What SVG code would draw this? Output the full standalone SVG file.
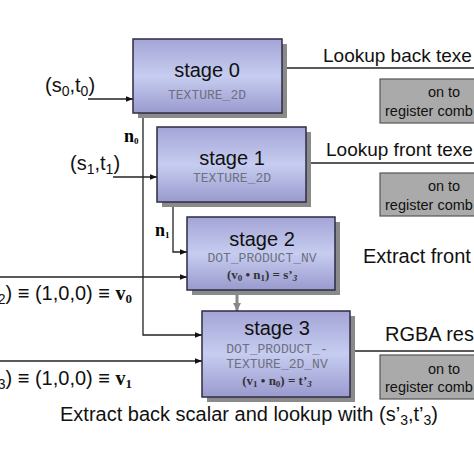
<svg xmlns="http://www.w3.org/2000/svg" width="474" height="474" viewBox="0 0 474 474">
<defs>
<linearGradient id="g" x1="0" y1="0" x2="0" y2="1">
<stop offset="0" stop-color="#a4a4d6"/>
<stop offset="0.5" stop-color="#c6cdf0"/>
<stop offset="1" stop-color="#9a9ace"/>
</linearGradient>
<marker id="ah" viewBox="0 0 10 10" refX="10" refY="5" markerWidth="7" markerHeight="7" markerUnits="userSpaceOnUse" orient="auto"><path d="M0,1 L10,5 L0,9 z" fill="#111"/></marker>
<marker id="ahg" viewBox="0 0 10 10" refX="10" refY="5" markerWidth="8" markerHeight="8" markerUnits="userSpaceOnUse" orient="auto"><path d="M0,0 L10,5 L0,10 z" fill="#888"/></marker>
</defs>
<style>
.box{fill:url(#g);stroke:#2c2c44;stroke-width:1.5}
.sh{fill:#8a8a8a}
.st{font-family:"Liberation Sans",Arial,sans-serif;font-size:20px;fill:#111;text-anchor:middle}
.mono{font-family:"Liberation Mono","Courier New",monospace;font-size:13px;fill:#6f6f80;text-anchor:middle}
.f{font-family:"Liberation Serif","Times New Roman",serif;font-size:13px;font-weight:bold;fill:#333;text-anchor:middle}
.lbl{font-family:"Liberation Sans",Arial,sans-serif;font-size:20px;fill:#111}
.rl{font-family:"Liberation Sans",Arial,sans-serif;font-size:19px;fill:#111}
.serb{font-family:"Liberation Serif","Times New Roman",serif;font-weight:bold}
.gb{fill:#aaaaaa;stroke:#555;stroke-width:1.2}
.gt{font-family:"Liberation Sans",Arial,sans-serif;font-size:14.5px;fill:#111}
.ln{stroke:#222;stroke-width:1.3;fill:none}
</style>
<g id="connectors">
<path class="ln" d="M88,99 H133" marker-end="url(#ah)"/>
<path class="ln" d="M113,177 H157" marker-end="url(#ah)"/>
<path class="ln" d="M143,113 V335 H202" marker-end="url(#ah)"/>
<path class="ln" d="M173,202 V252 H187" marker-end="url(#ah)"/>
<path class="ln" d="M0,277 H187" marker-end="url(#ah)"/>
<path class="ln" d="M0,361 H202" marker-end="url(#ah)"/>
<path d="M237,295 V311" stroke="#888" stroke-width="3" fill="none" marker-end="url(#ahg)"/>
<path class="ln" d="M287,68 H474"/>
<path class="ln" d="M311,163 H474"/>
<path class="ln" d="M355,351 H474"/>
</g>
<g id="stage0">
<rect class="sh" x="138" y="44" width="149" height="74"/>
<rect class="box" x="133" y="39" width="149" height="74"/>
<text class="st" x="207" y="77">stage 0</text>
<text class="mono" x="207" y="99">TEXTURE_2D</text>
</g>
<g id="stage1">
<rect class="sh" x="162" y="132" width="149" height="75"/>
<rect class="box" x="157" y="127" width="149" height="75"/>
<text class="st" x="232" y="165">stage 1</text>
<text class="mono" x="232" y="182">TEXTURE_2D</text>
</g>
<g id="stage2">
<rect class="sh" x="192" y="222" width="148" height="73"/>
<rect class="box" x="187" y="217" width="148" height="73"/>
<text class="st" x="262" y="246">stage 2</text>
<text class="mono" x="262" y="262">DOT_PRODUCT_NV</text>
<text class="f" x="262" y="279">(v<tspan font-size="9" dy="2">0</tspan><tspan dy="-2"> • n</tspan><tspan font-size="9" dy="2">1</tspan><tspan dy="-2">) = s’</tspan><tspan font-size="9" dy="2" font-style="italic">3</tspan></text>
</g>
<g id="stage3">
<rect class="sh" x="207" y="316" width="148" height="86"/>
<rect class="box" x="202" y="311" width="148" height="86"/>
<text class="st" x="277" y="335">stage 3</text>
<text class="mono" x="277" y="353">DOT_PRODUCT_-</text>
<text class="mono" x="277" y="368">TEXTURE_2D_NV</text>
<text class="f" x="277" y="385">(v<tspan font-size="9" dy="2">1</tspan><tspan dy="-2"> • n</tspan><tspan font-size="9" dy="2">0</tspan><tspan dy="-2">) = t’</tspan><tspan font-size="9" dy="2" font-style="italic">3</tspan></text>
</g>
<g id="reg0">
<rect class="gb" x="380" y="79" width="100" height="44"/>
<text class="gt" x="444" y="97" text-anchor="middle">on to</text>
<text class="gt" x="385" y="116">register comb</text>
</g>
<g id="reg1">
<rect class="gb" x="380" y="173" width="100" height="43"/>
<text class="gt" x="444" y="191" text-anchor="middle">on to</text>
<text class="gt" x="385" y="210">register comb</text>
</g>
<g id="reg3">
<rect class="gb" x="380" y="355" width="100" height="44"/>
<text class="gt" x="444" y="374" text-anchor="middle">on to</text>
<text class="gt" x="385" y="392">register comb</text>
</g>
<g id="labels">
<text class="rl" x="323" y="62">Lookup back texe</text>
<text class="rl" x="326" y="156">Lookup front texe</text>
<text class="lbl" x="363" y="263">Extract front</text>
<text class="lbl" x="385" y="341">RGBA res</text>
<text class="lbl" x="60" y="421">Extract back scalar and lookup with (s’<tspan font-size="14" dy="4">3</tspan><tspan dy="-4">,t’</tspan><tspan font-size="14" dy="4">3</tspan><tspan dy="-4">)</tspan></text>
<text class="lbl" x="45" y="92">(s<tspan font-size="14" dy="4">0</tspan><tspan dy="-4">,t</tspan><tspan font-size="14" dy="4">0</tspan><tspan dy="-4">)</tspan></text>
<text class="lbl" x="70" y="170">(s<tspan font-size="14" dy="4">1</tspan><tspan dy="-4">,t</tspan><tspan font-size="14" dy="4">1</tspan><tspan dy="-4">)</tspan></text>
<text class="serb" x="124" y="142" font-size="18">n<tspan font-size="9" dy="2">0</tspan></text>
<text class="serb" x="155" y="236" font-size="18">n<tspan font-size="9" dy="2">1</tspan></text>
<text class="lbl" x="132" y="300" text-anchor="end">(s<tspan font-size="14" dy="4">2</tspan><tspan dy="-4">,t</tspan><tspan font-size="14" dy="4">2</tspan><tspan dy="-4">) ≡ (1,0,0) ≡ </tspan><tspan class="serb">v</tspan><tspan class="serb" font-size="13" dy="3">0</tspan></text>
<text class="lbl" x="132" y="385" text-anchor="end">(s<tspan font-size="14" dy="4">3</tspan><tspan dy="-4">,t</tspan><tspan font-size="14" dy="4">3</tspan><tspan dy="-4">) ≡ (1,0,0) ≡ </tspan><tspan class="serb">v</tspan><tspan class="serb" font-size="13" dy="3">1</tspan></text>
</g>
</svg>
